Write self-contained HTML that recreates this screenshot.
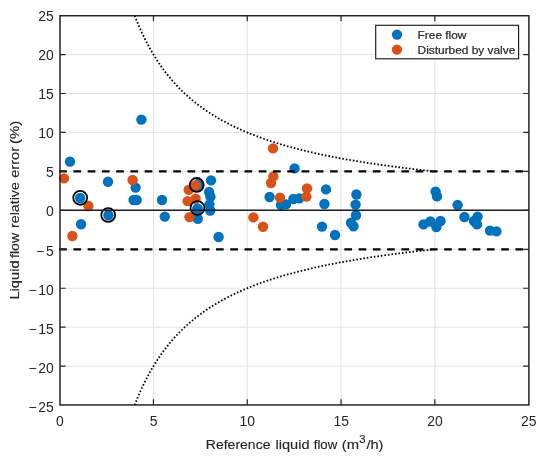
<!DOCTYPE html><html><head><meta charset="utf-8"><title>Liquid flow relative error</title>
<style>html,body{margin:0;padding:0;background:#fff}svg{display:block}text{font-family:"Liberation Sans",Arial,Helvetica,sans-serif;fill:#262626}</style></head><body>
<svg width="550" height="463" viewBox="0 0 550 463">
<rect width="550" height="463" fill="#fff"/>
<path d="M153.45 15.75V404.95M247.25 15.75V404.95M341.05 15.75V404.95M434.85 15.75V404.95M60.0 366.15H528.9M60.0 327.20H528.9M60.0 288.25H528.9M60.0 249.30H528.9M60.0 210.35H528.9M60.0 171.40H528.9M60.0 132.45H528.9M60.0 93.50H528.9M60.0 54.55H528.9" stroke="#e2e2e2" stroke-width="1" fill="none"/>
<polyline points="134.69,15.60 136.19,19.42 137.69,23.09 139.19,26.62 140.69,30.03 142.19,33.30 143.69,36.47 145.20,39.52 146.70,42.46 148.20,45.31 149.70,48.06 151.20,50.72 152.70,53.29 154.20,55.79 155.70,58.20 157.20,60.54 158.70,62.81 160.20,65.01 161.70,67.15 163.21,69.23 164.71,71.24 166.21,73.20 167.71,75.11 169.21,76.96 170.71,78.76 172.21,80.52 173.71,82.22 175.21,83.89 176.71,85.51 178.21,87.09 179.71,88.63 181.21,90.13 182.72,91.60 184.22,93.03 185.72,94.43 187.22,95.79 188.72,97.12 190.22,98.42 191.72,99.70 193.22,100.94 194.72,102.16 196.22,103.34 197.72,104.51 199.22,105.65 200.73,106.76 202.23,107.85 203.73,108.92 205.23,109.96 206.73,110.99 208.23,111.99 209.73,112.97 211.23,113.94 212.73,114.88 214.23,115.81 215.73,116.72 217.23,117.61 218.73,118.49 220.24,119.35 221.74,120.19 223.24,121.02 224.74,121.83 226.24,122.62 227.74,123.41 229.24,124.18 230.74,124.93 232.24,125.68 233.74,126.41 235.24,127.12 236.74,127.83 238.25,128.52 239.75,129.20 241.25,129.87 242.75,130.53 244.25,131.18 245.75,131.82 247.25,132.45 248.75,133.07 250.25,133.68 251.75,134.28 253.25,134.87 254.75,135.45 256.25,136.02 257.76,136.58 259.26,137.14 260.76,137.68 262.26,138.22 263.76,138.75 265.26,139.27 266.76,139.79 268.26,140.30 269.76,140.80 271.26,141.29 272.76,141.78 274.26,142.26 275.77,142.73 277.27,143.19 278.77,143.65 280.27,144.11 281.77,144.56 283.27,145.00 284.77,145.43 286.27,145.86 287.77,146.29 289.27,146.71 290.77,147.12 292.27,147.53 293.77,147.93 295.28,148.33 296.78,148.72 298.28,149.11 299.78,149.49 301.28,149.87 302.78,150.24 304.28,150.61 305.78,150.97 307.28,151.33 308.78,151.69 310.28,152.04 311.78,152.39 313.29,152.73 314.79,153.07 316.29,153.41 317.79,153.74 319.29,154.06 320.79,154.39 322.29,154.71 323.79,155.02 325.29,155.34 326.79,155.64 328.29,155.95 329.79,156.25 331.29,156.55 332.80,156.85 334.30,157.14 335.80,157.43 337.30,157.71 338.80,158.00 340.30,158.28 341.80,158.55 343.30,158.83 344.80,159.10 346.30,159.37 347.80,159.63 349.30,159.90 350.81,160.16 352.31,160.41 353.81,160.67 355.31,160.92 356.81,161.17 358.31,161.42 359.81,161.66 361.31,161.90 362.81,162.14 364.31,162.38 365.81,162.62 367.31,162.85 368.81,163.08 370.32,163.31 371.82,163.54 373.32,163.76 374.82,163.98 376.32,164.20 377.82,164.42 379.32,164.63 380.82,164.85 382.32,165.06 383.82,165.27 385.32,165.48 386.82,165.68 388.33,165.89 389.83,166.09 391.33,166.29 392.83,166.49 394.33,166.68 395.83,166.88 397.33,167.07 398.83,167.26 400.33,167.45 401.83,167.64 403.33,167.83 404.83,168.01 406.33,168.20 407.84,168.38 409.34,168.56 410.84,168.74 412.34,168.91 413.84,169.09 415.34,169.26 416.84,169.44 418.34,169.61 419.84,169.78 421.34,169.95 422.84,170.11 424.34,170.28 425.85,170.44 427.35,170.61 428.85,170.77 430.35,170.93 431.85,171.09 433.35,171.24 434.85,171.40" fill="none" stroke="#000" stroke-width="1.8" stroke-dasharray="1.6 1.95"/>
<polyline points="134.69,405.10 136.19,401.28 137.69,397.61 139.19,394.08 140.69,390.67 142.19,387.40 143.69,384.23 145.20,381.18 146.70,378.24 148.20,375.39 149.70,372.64 151.20,369.98 152.70,367.41 154.20,364.91 155.70,362.50 157.20,360.16 158.70,357.89 160.20,355.69 161.70,353.55 163.21,351.47 164.71,349.46 166.21,347.50 167.71,345.59 169.21,343.74 170.71,341.94 172.21,340.18 173.71,338.48 175.21,336.81 176.71,335.19 178.21,333.61 179.71,332.07 181.21,330.57 182.72,329.10 184.22,327.67 185.72,326.27 187.22,324.91 188.72,323.58 190.22,322.28 191.72,321.00 193.22,319.76 194.72,318.54 196.22,317.36 197.72,316.19 199.22,315.05 200.73,313.94 202.23,312.85 203.73,311.78 205.23,310.74 206.73,309.71 208.23,308.71 209.73,307.73 211.23,306.76 212.73,305.82 214.23,304.89 215.73,303.98 217.23,303.09 218.73,302.21 220.24,301.35 221.74,300.51 223.24,299.68 224.74,298.87 226.24,298.08 227.74,297.29 229.24,296.52 230.74,295.77 232.24,295.02 233.74,294.29 235.24,293.58 236.74,292.87 238.25,292.18 239.75,291.50 241.25,290.83 242.75,290.17 244.25,289.52 245.75,288.88 247.25,288.25 248.75,287.63 250.25,287.02 251.75,286.42 253.25,285.83 254.75,285.25 256.25,284.68 257.76,284.12 259.26,283.56 260.76,283.02 262.26,282.48 263.76,281.95 265.26,281.43 266.76,280.91 268.26,280.40 269.76,279.90 271.26,279.41 272.76,278.92 274.26,278.44 275.77,277.97 277.27,277.51 278.77,277.05 280.27,276.59 281.77,276.14 283.27,275.70 284.77,275.27 286.27,274.84 287.77,274.41 289.27,273.99 290.77,273.58 292.27,273.17 293.77,272.77 295.28,272.37 296.78,271.98 298.28,271.59 299.78,271.21 301.28,270.83 302.78,270.46 304.28,270.09 305.78,269.73 307.28,269.37 308.78,269.01 310.28,268.66 311.78,268.31 313.29,267.97 314.79,267.63 316.29,267.29 317.79,266.96 319.29,266.64 320.79,266.31 322.29,265.99 323.79,265.68 325.29,265.36 326.79,265.06 328.29,264.75 329.79,264.45 331.29,264.15 332.80,263.85 334.30,263.56 335.80,263.27 337.30,262.99 338.80,262.70 340.30,262.42 341.80,262.15 343.30,261.87 344.80,261.60 346.30,261.33 347.80,261.07 349.30,260.80 350.81,260.54 352.31,260.29 353.81,260.03 355.31,259.78 356.81,259.53 358.31,259.28 359.81,259.04 361.31,258.80 362.81,258.56 364.31,258.32 365.81,258.08 367.31,257.85 368.81,257.62 370.32,257.39 371.82,257.16 373.32,256.94 374.82,256.72 376.32,256.50 377.82,256.28 379.32,256.07 380.82,255.85 382.32,255.64 383.82,255.43 385.32,255.22 386.82,255.02 388.33,254.81 389.83,254.61 391.33,254.41 392.83,254.21 394.33,254.02 395.83,253.82 397.33,253.63 398.83,253.44 400.33,253.25 401.83,253.06 403.33,252.87 404.83,252.69 406.33,252.50 407.84,252.32 409.34,252.14 410.84,251.96 412.34,251.79 413.84,251.61 415.34,251.44 416.84,251.26 418.34,251.09 419.84,250.92 421.34,250.75 422.84,250.59 424.34,250.42 425.85,250.26 427.35,250.09 428.85,249.93 430.35,249.77 431.85,249.61 433.35,249.46 434.85,249.30" fill="none" stroke="#000" stroke-width="1.8" stroke-dasharray="1.6 1.95"/>
<g fill="#0072bd"><circle cx="141.4" cy="119.6" r="5.2"/><circle cx="70" cy="161.6" r="5.2"/><circle cx="108" cy="181.8" r="5.2"/><circle cx="135.6" cy="187.6" r="5.2"/><circle cx="80.2" cy="198.0" r="5.2"/><circle cx="133.6" cy="200" r="5.2"/><circle cx="136.6" cy="200" r="5.2"/><circle cx="162" cy="200" r="5.2"/><circle cx="108.4" cy="215.2" r="5.2"/><circle cx="81.1" cy="224.3" r="5.2"/><circle cx="164.8" cy="216.6" r="5.2"/><circle cx="211" cy="180.4" r="5.2"/><circle cx="198.55" cy="184.0" r="5.2"/><circle cx="196.4" cy="186.5" r="5.2"/><circle cx="209.1" cy="192" r="5.2"/><circle cx="210.4" cy="196.8" r="5.2"/><circle cx="209.45" cy="204.6" r="5.2"/><circle cx="210.2" cy="210.5" r="5.2"/><circle cx="197.5" cy="208.8" r="5.2"/><circle cx="197.8" cy="218.9" r="5.2"/><circle cx="218.6" cy="237" r="5.2"/><circle cx="294.6" cy="168.4" r="5.2"/><circle cx="269.6" cy="197" r="5.2"/><circle cx="281" cy="205" r="5.2"/><circle cx="286" cy="204.4" r="5.2"/><circle cx="293.4" cy="199" r="5.2"/><circle cx="299.4" cy="198.4" r="5.2"/><circle cx="326" cy="189.4" r="5.2"/><circle cx="324.4" cy="204" r="5.2"/><circle cx="356.4" cy="194.5" r="5.2"/><circle cx="355.6" cy="204.6" r="5.2"/><circle cx="356" cy="215.2" r="5.2"/><circle cx="351" cy="222.8" r="5.2"/><circle cx="353.5" cy="226.2" r="5.2"/><circle cx="322" cy="226.6" r="5.2"/><circle cx="335" cy="235" r="5.2"/><circle cx="435.6" cy="191.6" r="5.2"/><circle cx="437" cy="196.4" r="5.2"/><circle cx="457.6" cy="205" r="5.2"/><circle cx="464.4" cy="217" r="5.2"/><circle cx="477.6" cy="216.6" r="5.2"/><circle cx="474" cy="221" r="5.2"/><circle cx="477" cy="224.4" r="5.2"/><circle cx="490" cy="230.6" r="5.2"/><circle cx="496.4" cy="231.4" r="5.2"/><circle cx="423.5" cy="224.4" r="5.2"/><circle cx="430.4" cy="221.5" r="5.2"/><circle cx="436.4" cy="227" r="5.2"/><circle cx="440.5" cy="221" r="5.2"/></g>
<g fill="#d95319"><circle cx="64" cy="178.4" r="5.2"/><circle cx="132.6" cy="180" r="5.2"/><circle cx="88.4" cy="206" r="5.2"/><circle cx="72.4" cy="236" r="5.2"/><circle cx="195.6" cy="185.4" r="5.2"/><circle cx="188.7" cy="189.9" r="5.2"/><circle cx="187.6" cy="201.1" r="5.2"/><circle cx="195.6" cy="198.8" r="5.2"/><circle cx="189.45" cy="217.1" r="5.2"/><circle cx="253.4" cy="217.4" r="5.2"/><circle cx="263" cy="226.8" r="5.2"/><circle cx="273" cy="148.4" r="5.2"/><circle cx="273.4" cy="176.4" r="5.2"/><circle cx="271" cy="183" r="5.2"/><circle cx="280" cy="197.6" r="5.2"/><circle cx="307" cy="188.4" r="5.2"/><circle cx="306.4" cy="196.6" r="5.2"/></g>
<g fill="#0072bd"><circle cx="197.5" cy="208.8" r="5.2"/></g>
<g fill="none" stroke="#000" stroke-width="1.8"><circle cx="80.2" cy="197.8" r="6.95"/><circle cx="108.2" cy="215.0" r="6.95"/><circle cx="196.7" cy="184.95" r="6.95"/><circle cx="197.45" cy="208.0" r="6.95"/></g>
<path d="M60.0 210.15H528.9" stroke="#1c1c1c" stroke-width="1.55" fill="none"/>
<path d="M59.15 171.40H528.9" stroke="#000" stroke-width="2.3" stroke-dasharray="7.65 6.61" fill="none"/>
<path d="M59.15 249.30H528.9" stroke="#000" stroke-width="2.3" stroke-dasharray="7.65 6.61" fill="none"/>
<rect x="60.0" y="15.75" width="468.90" height="389.20" fill="none" stroke="#1c1c1c" stroke-width="1.45"/>
<path d="M153.45 404.95v-5.6M153.45 15.75v5.6M247.25 404.95v-5.6M247.25 15.75v5.6M341.05 404.95v-5.6M341.05 15.75v5.6M434.85 404.95v-5.6M434.85 15.75v5.6M60.0 366.15h5.7M528.9 366.15h-5.7M60.0 327.20h5.7M528.9 327.20h-5.7M60.0 288.25h5.7M528.9 288.25h-5.7M60.0 249.30h5.7M528.9 249.30h-5.7M60.0 210.35h5.7M528.9 210.35h-5.7M60.0 171.40h5.7M528.9 171.40h-5.7M60.0 132.45h5.7M528.9 132.45h-5.7M60.0 93.50h5.7M528.9 93.50h-5.7M60.0 54.55h5.7M528.9 54.55h-5.7" stroke="#262626" stroke-width="1.2" fill="none"/>
<text x="59.75" y="425.5" font-size="13.9" text-anchor="middle">0</text>
<text x="153.55" y="425.5" font-size="13.9" text-anchor="middle">5</text>
<text x="247.35" y="425.5" font-size="13.9" text-anchor="middle">10</text>
<text x="341.15" y="425.5" font-size="13.9" text-anchor="middle">15</text>
<text x="434.95" y="425.5" font-size="13.9" text-anchor="middle">20</text>
<text x="528.75" y="425.5" font-size="13.9" text-anchor="middle">25</text>
<text x="53.8" y="412.25" font-size="13.9" text-anchor="end">−<tspan dx="1.6">25</tspan></text>
<text x="53.8" y="373.09" font-size="13.9" text-anchor="end">−<tspan dx="1.6">20</tspan></text>
<text x="53.8" y="333.94" font-size="13.9" text-anchor="end">−<tspan dx="1.6">15</tspan></text>
<text x="53.8" y="294.78" font-size="13.9" text-anchor="end">−<tspan dx="1.6">10</tspan></text>
<text x="53.8" y="255.63" font-size="13.9" text-anchor="end">−<tspan dx="1.6">5</tspan></text>
<text x="53.8" y="216.47" font-size="13.9" text-anchor="end">0</text>
<text x="53.8" y="177.32" font-size="13.9" text-anchor="end">5</text>
<text x="53.8" y="138.16" font-size="13.9" text-anchor="end">10</text>
<text x="53.8" y="99.01" font-size="13.9" text-anchor="end">15</text>
<text x="53.8" y="59.85" font-size="13.9" text-anchor="end">20</text>
<text x="53.8" y="20.70" font-size="13.9" text-anchor="end">25</text>
<g font-size="13.7" stroke="#262626" stroke-width="0.15">
<text x="205.78" y="449.2" textLength="64.73" lengthAdjust="spacingAndGlyphs">Reference</text>
<text x="275.53" y="449.2" textLength="33.99" lengthAdjust="spacingAndGlyphs">liquid</text>
<text x="313.77" y="449.2" textLength="23.43" lengthAdjust="spacingAndGlyphs">flow</text>
<text x="341.81" y="449.2" textLength="17.33" lengthAdjust="spacingAndGlyphs">(m</text>
<text x="366.40" y="449.2" textLength="17.08" lengthAdjust="spacingAndGlyphs">/h)</text>
<text x="359.3" y="442.8" font-size="11.3">3</text>
</g>
<g font-size="13.7" stroke="#262626" stroke-width="0.15" transform="translate(19.2,0) rotate(-90)">
<text x="-299.57" y="0" textLength="39.09" lengthAdjust="spacingAndGlyphs">Liquid</text>
<text x="-257.94" y="0" textLength="25.03" lengthAdjust="spacingAndGlyphs">flow</text>
<text x="-228.06" y="0" textLength="45.97" lengthAdjust="spacingAndGlyphs">relative</text>
<text x="-177.89" y="0" textLength="30.98" lengthAdjust="spacingAndGlyphs">error</text>
<text x="-144.09" y="0" textLength="23.18" lengthAdjust="spacingAndGlyphs">(%)</text>
</g>
<rect x="375.7" y="25.3" width="142.9" height="33.5" fill="#fff" stroke="#1c1c1c" stroke-width="1.15"/>
<circle cx="397" cy="34.6" r="5.15" fill="#0072bd"/><circle cx="397" cy="49.6" r="5.15" fill="#d95319"/>
<g font-size="10.8" stroke="#262626" stroke-width="0.2"><text transform="translate(417.6,38.7) scale(1.1,1)">Free flow</text><text transform="translate(417.6,54.3) scale(1.1,1)">Disturbed by valve</text></g>
</svg></body></html>
